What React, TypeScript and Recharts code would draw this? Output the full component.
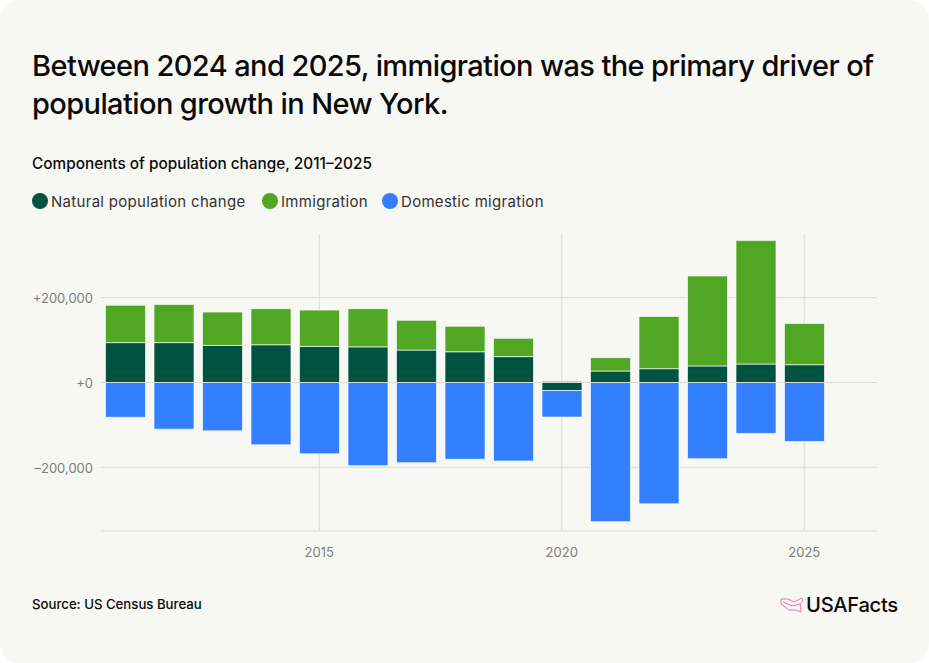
import { BarChart, Bar, XAxis, YAxis, CartesianGrid, ReferenceLine } from 'recharts';

const years = [2011, 2012, 2013, 2014, 2015, 2016, 2017, 2018, 2019, 2020, 2021, 2022, 2023, 2024, 2025, 2026];
const natural = [94000, 94000, 87500, 89000, 85000, 84000, 76500, 72500, 61000, -19000, 27000, 32600, 39000, 43600, 42000, null];
const immigration = [88000, 90000, 78500, 85000, 85600, 90000, 70000, 60000, 43000, 3000, 31500, 123000, 212000, 291000, 97000, null];
const domestic = [-82000, -110000, -114000, -147000, -168000, -196000, -189000, -181000, -185000, -62500, -328000, -286000, -179600, -120000, -139000, null];

const xTicks = [2015, 2020, 2025];
const yTicks = [-200000, 0, 200000];

const GREEN_DARK = '#005241';
const GREEN = '#4fa724';
const BLUE = '#337fff';
const BG = '#f7f7f3';
const GRID = '#dcdcd7';
const FONT = 'Inter, sans-serif';

const legendItems = [
    { name: 'Natural population change', color: GREEN_DARK, left: 32 },
    { name: 'Immigration', color: GREEN, left: 262 },
    { name: 'Domestic migration', color: BLUE, left: 382 },
];

const data = years.map((year, i) => ({
    year,
    natural: natural[i],
    immigration: immigration[i],
    domestic: domestic[i],
}));

function formatY(v: number) {
    if (v === 0) return '+0';
    const s = Math.abs(v).toLocaleString('en-US');
    return (v > 0 ? '+' : '–') + s;
}

const barStroke = { stroke: '#ffffff', strokeOpacity: 0.65, strokeWidth: 1 };

export default function App() {
    return (
        <div style={{ position: 'absolute', left: 0, top: 0, width: 929, height: 663, background: '#fff', fontFamily: FONT }}>
            <div style={{ position: 'absolute', inset: 0, background: BG, borderRadius: 20 }} />

            <div style={{ position: 'absolute', left: 32, top: 47, width: 880, fontSize: 29, lineHeight: '38px', fontWeight: 500, color: '#0a0a0a', letterSpacing: -0.6, whiteSpace: 'nowrap' }}>
                Between 2024 and 2025, immigration was the primary driver of
                <br />
                population growth in New York.
            </div>
            <div style={{ position: 'absolute', left: 32, top: 154, fontSize: 15.35, lineHeight: '20px', fontWeight: 500, color: '#0a0a0a', whiteSpace: 'nowrap' }}>
                Components of population change, 2011–2025
            </div>

            {legendItems.map((item) => (
                <div key={item.name} style={{ position: 'absolute', left: item.left, top: 191, height: 20, display: 'flex', alignItems: 'center', gap: 3 }}>
                    <div style={{ width: 16, height: 16, borderRadius: 8, background: item.color }} />
                    <span style={{ fontSize: 15, color: '#333', letterSpacing: 0.3, whiteSpace: 'nowrap' }}>{item.name}</span>
                </div>
            ))}

            <div style={{ position: 'absolute', left: 0, top: 0 }}>
                <BarChart
                    width={929}
                    height={663}
                    data={data}
                    stackOffset="sign"
                    barCategoryGap={4.5}
                    margin={{ top: 234, right: 52, bottom: 102, left: 0 }}
                >
                    <CartesianGrid stroke={GRID} strokeWidth={1} syncWithTicks />
                    <XAxis
                        dataKey="year"
                        ticks={xTicks}
                        height={30}
                        stroke={GRID}
                        tickLine={false}
                        tickMargin={11}
                        tick={{ fill: '#7d7d7d', fontSize: 13, fontFamily: FONT }}
                    />
                    <YAxis
                        width={101}
                        domain={[-350000, 350000]}
                        ticks={yTicks}
                        axisLine={false}
                        tickLine={false}
                        tickMargin={2}
                        tickFormatter={formatY}
                        tick={{ fill: '#7d7d7d', fontSize: 13, fontFamily: FONT, dy: 1 }}
                    />
                    <ReferenceLine y={0} stroke={GRID} />
                    <Bar dataKey="natural" stackId="a" fill={GREEN_DARK} {...barStroke} isAnimationActive={false} />
                    <Bar dataKey="immigration" stackId="a" fill={GREEN} {...barStroke} isAnimationActive={false} />
                    <Bar dataKey="domestic" stackId="a" fill={BLUE} {...barStroke} isAnimationActive={false} />
                </BarChart>
            </div>

            <div style={{ position: 'absolute', left: 32, top: 595, fontSize: 13.2, lineHeight: '18px', fontWeight: 500, color: '#0a0a0a', whiteSpace: 'nowrap' }}>
                Source: US Census Bureau
            </div>

            <svg width={26} height={16} viewBox="0 0 26 16" style={{ position: 'absolute', left: 780, top: 597 }}>
                <path
                    d="M1 2 L8 2 L14 5 L22 1 L23 4 L20 7 L21 12 L21 15 L16 13 L9 13 L4 9 L1 7 Z M3 5 L12 9 L20 7"
                    fill="none"
                    stroke="#ee6fb4"
                    strokeWidth={1}
                />
            </svg>
            <div style={{ position: 'absolute', left: 806, top: 593, fontSize: 20.2, lineHeight: '24px', fontWeight: 500, color: '#0a0a0a', letterSpacing: -0.3, whiteSpace: 'nowrap' }}>
                USAFacts
            </div>
        </div>
    );
}
